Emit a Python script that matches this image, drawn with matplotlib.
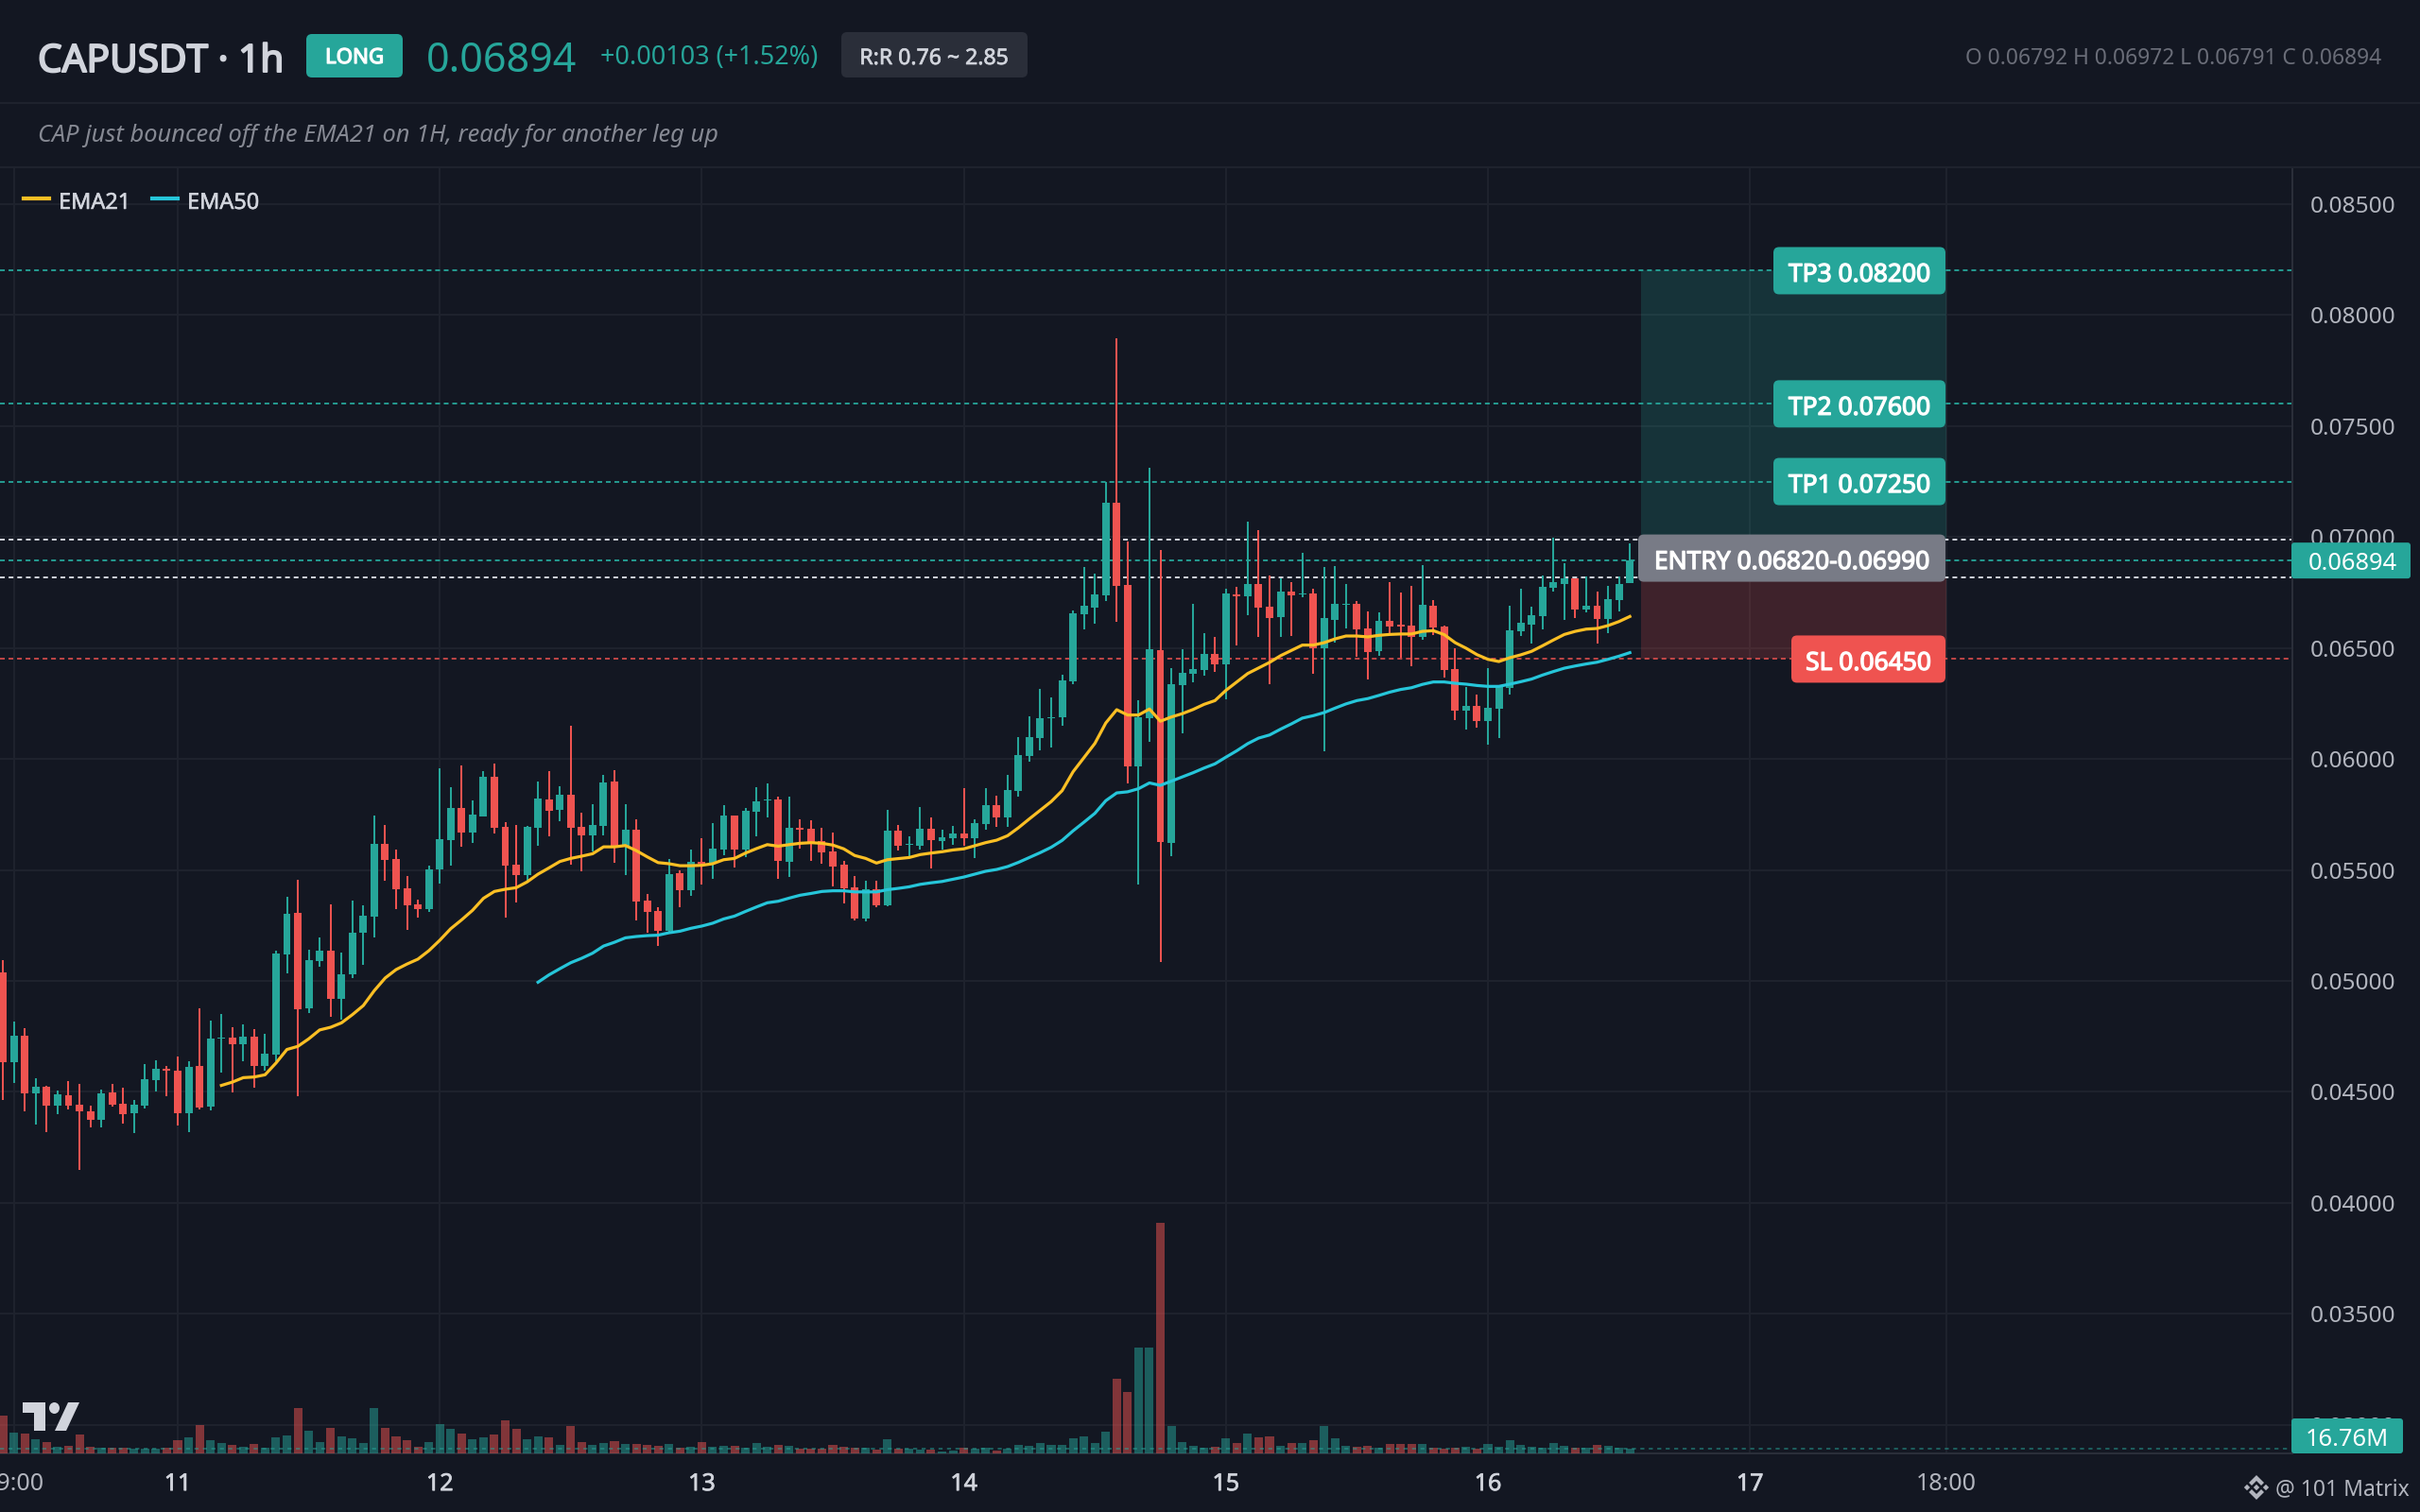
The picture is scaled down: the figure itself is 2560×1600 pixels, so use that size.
import numpy as np
import matplotlib
matplotlib.use("Agg")
import matplotlib.pyplot as plt
import matplotlib.patheffects as pe
from matplotlib.patches import FancyBboxPatch, Polygon, Ellipse

plt.rcParams['font.family'] = ['Noto Sans', 'DejaVu Sans']

# candle data, hours since the 11th 00:00, prices in 1e-5 USDT
first_hour = -16
highs = [5094, 4817, 4787, 4561, 4527, 4506, 4549, 4536, 4438, 4510, 4536, 4519, 4463, 4625, 4642, 4617,
         4659, 4638, 4876, 4821, 4851, 4791, 4804, 4783, 4761, 5136, 5379, 5455, 5140, 5196, 5345, 5128,
         5362, 5341, 5745, 5703, 5592, 5473, 5366, 5519, 5958, 5873, 5971, 5813, 5945, 5979, 5715, 5702,
         5698, 5898, 5945, 5877, 6149, 5758, 5796, 5928, 5949, 5796, 5728, 5391, 5332, 5549, 5498, 5592,
         5643, 5711, 5792, 5745, 5779, 5873, 5890, 5829, 5830, 5728, 5724, 5690, 5668, 5540, 5472, 5451,
         5451, 5770, 5702, 5651, 5783, 5736, 5681, 5698, 5869, 5728, 5869, 5835, 5929, 6099, 6193, 6316,
         6278, 6380, 6669, 6866, 6835, 7250, 7896, 6980, 6265, 7312, 6942, 6409, 6495, 6698, 6567, 6550,
         6766, 6776, 7069, 7031, 6827, 6814, 6797, 6929, 6767, 6865, 6869, 6788, 6712, 6665, 6661, 6797,
         6750, 6780, 6873, 6716, 6601, 6499, 6324, 6290, 6409, 6333, 6690, 6767, 6686, 6827, 6996, 6882,
         6814, 6822, 6754, 6780, 6822, 6972]
lows = [4463, 4540, 4414, 4353, 4320, 4401, 4421, 4150, 4342, 4342, 4435, 4358, 4316, 4426, 4503, 4482,
        4350, 4320, 4422, 4418, 4588, 4499, 4639, 4520, 4594, 4639, 5034, 4482, 4857, 5065, 4840, 4825,
        5014, 5074, 5197, 5453, 5325, 5231, 5287, 5312, 5440, 5521, 5606, 5623, 5742, 5664, 5285, 5353,
        5451, 5609, 5651, 5719, 5523, 5494, 5583, 5655, 5532, 5477, 5272, 5217, 5157, 5221, 5332, 5383,
        5434, 5460, 5566, 5511, 5558, 5651, 5736, 5460, 5468, 5596, 5540, 5528, 5426, 5349, 5272, 5268,
        5332, 5336, 5587, 5562, 5592, 5506, 5592, 5613, 5609, 5554, 5682, 5694, 5694, 5831, 5988, 6039,
        6052, 6150, 6337, 6584, 6609, 6712, 6619, 5890, 5434, 6077, 5085, 5562, 6115, 6345, 6375, 6392,
        6269, 6512, 6648, 6550, 6337, 6550, 6554, 6729, 6384, 6035, 6524, 6588, 6460, 6358, 6465, 6567,
        6456, 6418, 6537, 6558, 6367, 6175, 6133, 6141, 6064, 6094, 6290, 6554, 6520, 6584, 6754, 6627,
        6635, 6661, 6520, 6567, 6665, 6791]
opens = [5038, 4635, 4753, 4495, 4523, 4439, 4485, 4442, 4412, 4375, 4498, 4446, 4405, 4439, 4554, 4603,
         4595, 4405, 4617, 4435, 4740, 4745, 4716, 4749, 4618, 4669, 5119, 5306, 4878, 5091, 5136, 4920,
         5031, 5215, 5290, 5617, 5549, 5417, 5345, 5325, 5504, 5636, 5779, 5670, 5742, 5920, 5694, 5523,
         5477, 5690, 5817, 5770, 5839, 5694, 5655, 5698, 5898, 5604, 5681, 5362, 5315, 5225, 5485, 5408,
         5536, 5528, 5592, 5745, 5592, 5762, 5812, 5817, 5536, 5690, 5685, 5630, 5583, 5523, 5421, 5281,
         5413, 5340, 5677, 5611, 5609, 5685, 5630, 5643, 5664, 5643, 5707, 5792, 5737, 5856, 6014, 6095,
         6183, 6188, 6350, 6653, 6681, 6736, 7155, 6784, 5967, 6185, 6489, 5622, 6333, 6383, 6400, 6474,
         6426, 6740, 6733, 6788, 6686, 6639, 6754, 6741, 6746, 6499, 6627, 6695, 6699, 6588, 6486, 6622,
         6604, 6601, 6550, 6690, 6597, 6405, 6218, 6239, 6171, 6226, 6320, 6575, 6605, 6644, 6771, 6788,
         6814, 6673, 6690, 6631, 6716, 6792]
closes = [4635, 4753, 4495, 4523, 4439, 4489, 4439, 4414, 4375, 4493, 4442, 4401, 4442, 4557, 4604, 4594,
          4405, 4613, 4431, 4740, 4745, 4716, 4749, 4618, 4672, 5123, 5302, 4873, 5094, 5136, 4920, 5030,
          5217, 5294, 5617, 5546, 5414, 5342, 5325, 5502, 5639, 5779, 5670, 5749, 5920, 5690, 5519, 5477,
          5694, 5821, 5766, 5839, 5690, 5655, 5702, 5894, 5604, 5681, 5357, 5311, 5225, 5481, 5408, 5536,
          5528, 5596, 5745, 5592, 5766, 5809, 5817, 5540, 5690, 5681, 5626, 5579, 5515, 5417, 5281, 5413,
          5340, 5677, 5609, 5617, 5685, 5634, 5647, 5664, 5643, 5711, 5792, 5737, 5860, 6018, 6099, 6184,
          6188, 6354, 6657, 6691, 6742, 7155, 6780, 5967, 6189, 6495, 5626, 6337, 6389, 6406, 6474, 6427,
          6746, 6734, 6788, 6682, 6635, 6754, 6737, 6746, 6499, 6635, 6699, 6700, 6584, 6482, 6622, 6597,
          6598, 6550, 6695, 6592, 6401, 6218, 6239, 6171, 6231, 6328, 6580, 6614, 6648, 6776, 6797, 6814,
          6673, 6690, 6631, 6720, 6788, 6894]

# volume in millions
volumes = [123, 68, 65, 47, 38, 22, 25, 62, 22, 19, 19, 19, 16, 16, 16, 19,
           44, 53, 92, 44, 34, 28, 22, 31, 19, 53, 59, 147, 74, 38, 83, 56,
           50, 34, 147, 83, 56, 44, 22, 38, 95, 80, 65, 47, 53, 62, 108, 80,
           47, 56, 53, 28, 89, 38, 28, 34, 41, 31, 31, 28, 25, 31, 19, 22,
           38, 22, 25, 25, 19, 34, 22, 28, 25, 16, 16, 16, 28, 22, 18, 18,
           12, 46, 15, 15, 12, 12, 6, 9, 18, 15, 18, 9, 15, 27, 24, 34,
           27, 27, 49, 55, 34, 70, 241, 198, 342, 342, 744, 88, 37, 24, 18, 21,
           49, 34, 64, 52, 55, 24, 34, 34, 43, 88, 49, 24, 21, 24, 18, 31,
           31, 31, 31, 18, 15, 18, 21, 15, 31, 21, 43, 27, 21, 18, 34, 24,
           18, 18, 27, 24, 18, 16.76]

# EMA lines, same hours and units as the candles
ema21_start = 4
ema21 = [4529, 4544, 4564, 4567, 4577, 4630, 4691, 4705, 4739, 4779, 4791, 4811, 4848, 4889, 4956, 5013,
         5051, 5076, 5098, 5136, 5183, 5235, 5275, 5318, 5372, 5403, 5413, 5420, 5446, 5481, 5509, 5538,
         5552, 5562, 5573, 5604, 5604, 5610, 5587, 5559, 5533, 5528, 5519, 5519, 5521, 5528, 5546, 5552,
         5576, 5596, 5614, 5607, 5614, 5620, 5623, 5620, 5612, 5595, 5565, 5552, 5531, 5546, 5551, 5556,
         5569, 5576, 5582, 5590, 5595, 5609, 5623, 5634, 5654, 5690, 5730, 5769, 5808, 5857, 5942, 6006,
         6070, 6162, 6222, 6198, 6198, 6225, 6170, 6189, 6204, 6223, 6246, 6263, 6309, 6347, 6385, 6410,
         6435, 6465, 6489, 6513, 6513, 6524, 6541, 6554, 6554, 6550, 6557, 6561, 6563, 6563, 6575, 6578,
         6560, 6524, 6499, 6470, 6449, 6439, 6456, 6469, 6485, 6510, 6536, 6561, 6575, 6585, 6588, 6601,
         6619, 6642]
ema50_start = 33
ema50 = [4994, 5027, 5055, 5082, 5102, 5125, 5157, 5174, 5194, 5200, 5204, 5206, 5217, 5224, 5237, 5247,
         5260, 5279, 5292, 5313, 5333, 5352, 5359, 5373, 5386, 5394, 5403, 5406, 5406, 5401, 5401, 5401,
         5411, 5417, 5424, 5435, 5442, 5448, 5458, 5468, 5481, 5494, 5502, 5515, 5534, 5556, 5578, 5602,
         5633, 5676, 5715, 5755, 5812, 5847, 5852, 5866, 5892, 5881, 5900, 5919, 5938, 5959, 5978, 6008,
         6037, 6069, 6094, 6108, 6134, 6158, 6184, 6195, 6209, 6229, 6248, 6263, 6272, 6286, 6301, 6313,
         6321, 6336, 6347, 6347, 6341, 6337, 6331, 6327, 6327, 6337, 6348, 6360, 6378, 6394, 6409, 6419,
         6428, 6436, 6449, 6463, 6479]

price_ticks = [0.030, 0.035, 0.040, 0.045, 0.050, 0.055, 0.060, 0.065, 0.070, 0.075, 0.080, 0.085]
time_ticks = [-15, 0, 24, 48, 72, 96, 120, 144, 162]
time_labels = ['09:00', '11', '12', '13', '14', '15', '16', '17', '18:00']

entry_low, entry_high = 0.06820, 0.06990
stop_loss = 0.06450
targets = [0.07250, 0.07600, 0.08200]
last_price = 0.06894
last_volume = 16.76
zone_start, zone_end = 134, 162

BG = '#131722'
GRID = '#1e222d'
AXIS = '#2a2e39'
UP = '#26a69a'
DOWN = '#ef5350'
TEXT = '#d1d4dc'
DIM = '#b2b5be'
YELLOW = '#fbbf24'
CYAN = '#26c6da'

W, H = 2560, 1600
LEFT, RIGHT, TOP, BOTTOM = 0, 2425, 177, 1538


def pill(ax, x0, y0, x1, y1, color, radius=6):
    ax.add_patch(FancyBboxPatch((x0 + radius, y0 + radius), x1 - x0 - 2 * radius, y1 - y0 - 2 * radius,
                                boxstyle=f"round,pad={radius},rounding_size={radius}",
                                fc=color, ec='none', zorder=2))


def bold_text(ax, x, y, s, color, size, stroke=0.9, **kwargs):
    # the installed Noto Sans only comes in one weight here, so thicken it
    txt = ax.text(x, y, s, color=color, fontsize=size, **kwargs)
    txt.set_path_effects([pe.withStroke(linewidth=stroke, foreground=color)])
    return txt


hours = np.arange(first_hour, first_hour + len(closes))
highs = np.array(highs) * 1e-5
lows = np.array(lows) * 1e-5
opens = np.array(opens) * 1e-5
closes = np.array(closes) * 1e-5
rising = closes >= opens
colors = np.where(rising, UP, DOWN)

fig = plt.figure(figsize=(W / 100, H / 100), dpi=100, facecolor=BG)
ax = fig.add_axes([LEFT / W, 1 - BOTTOM / H, (RIGHT - LEFT) / W, (BOTTOM - TOP) / H], facecolor=BG)

# volume on its own scale, 3.05M per px
ax_vol = ax.twinx()
ax_vol.set_ylim(0, (BOTTOM - TOP) * 3.05)
ax_vol.set_yticks([])
for spine in ax_vol.spines.values():
    spine.set_visible(False)

# 11.55 px per hour, day 11 sits at x=188
ax.set_xlim((LEFT - 188) / 11.55, (RIGHT - 188) / 11.55)
ax.set_ylim(0.02871, 0.08666)

ax.set_xticks(time_ticks)
ax.set_xticklabels(time_labels)
ax.yaxis.tick_right()
ax.set_yticks(price_ticks)
ax.set_yticklabels([f"{p:.5f}" for p in price_ticks])
ax.tick_params(axis='y', length=0, pad=13.5, labelsize=17.6, labelcolor=DIM)
ax.tick_params(axis='x', length=0, pad=14.5, labelsize=18, labelcolor=TEXT)
for label, text in zip(ax.get_xticklabels(), time_labels):
    if ':' in text:
        label.set_color(DIM)
    else:
        label.set_path_effects([pe.withStroke(linewidth=0.5, foreground=TEXT)])
ax.grid(True, color=GRID, lw=1.45, zorder=1)
ax.set_axisbelow(True)
for name, spine in ax.spines.items():
    spine.set_visible(name in ('right', 'bottom'))
    spine.set_color(AXIS)
    spine.set_linewidth(1.45)

# risk and reward zones
ax.fill_between([zone_start, zone_end], entry_high, targets[-1], color=UP, alpha=0.2, lw=0, zorder=1.5)
ax.fill_between([zone_start, zone_end], stop_loss, entry_low, color=DOWN, alpha=0.2, lw=0, zorder=1.5)

# price levels
for level in targets + [last_price]:
    ax.axhline(level, color=UP, lw=1.3, ls=(0, (2.8, 2.2)), zorder=2)
for level in (entry_low, entry_high):
    ax.axhline(level, color=TEXT, lw=1.4, ls=(0, (2.6, 2.1)), zorder=2)
ax.axhline(stop_loss, color=DOWN, lw=1.1, ls=(0, (3.3, 2.6)), zorder=2)

# candles
ax.vlines(hours, lows, highs, colors=colors, lw=1.45, zorder=3)
body_low = np.minimum(opens, closes)
body_height = np.maximum(np.abs(closes - opens), 0.00003)
ax.bar(hours, body_height, bottom=body_low, width=0.69, color=colors, lw=0, zorder=3)

# moving averages
ax.plot(np.arange(ema21_start, ema21_start + len(ema21)), np.array(ema21) * 1e-5,
        color=YELLOW, lw=2.3, zorder=4, solid_joinstyle='round')
ax.plot(np.arange(ema50_start, ema50_start + len(ema50)), np.array(ema50) * 1e-5,
        color=CYAN, lw=2.3, zorder=4, solid_joinstyle='round')

ax_vol.bar(hours, volumes, width=0.78, color=colors, alpha=0.5, lw=0, zorder=2)
ax_vol.axhline(last_volume, color=UP, alpha=0.5, lw=1.4, ls=(0, (2.2, 2.4)), zorder=2)

# everything around the chart is laid out in pixels on a full figure overlay
over = fig.add_axes([0, 0, 1, 1], facecolor='none', zorder=10)
over.set_xlim(0, W)
over.set_ylim(H, 0)
over.axis('off')


def price_y(price):
    return H - ax.transData.transform((0, price))[1]


# header
over.plot([0, W], [108.5, 108.5], color=GRID, lw=1.45)
over.plot([0, W], [177, 177], color=GRID, lw=1.45)
bold_text(over, 40, 76, "CAPUSDT · 1h", TEXT, 29.2, stroke=1.4, va='baseline')
pill(over, 324, 36, 426, 82, UP)
bold_text(over, 375, 59, "LONG", 'white', 16, ha='center', va='center_baseline')
over.text(451, 76, f"{last_price:.5f}", color=UP, fontsize=31, va='baseline')
over.text(635, 68, "+0.00103 (+1.52%)", color=UP, fontsize=19.4, va='baseline')
pill(over, 890, 34, 1087, 82, AXIS)
bold_text(over, 988, 59, "R:R 0.76 ~ 2.85", TEXT, 16.6, stroke=0.5, ha='center', va='center_baseline')
over.text(2519, 59, "O 0.06792 H 0.06972 L 0.06791 C 0.06894", color='#6a6d78', fontsize=16.4, ha='right',
          va='center_baseline')
over.text(40, 150, "CAP just bounced off the EMA21 on 1H, ready for another leg up", color='#868993',
          fontsize=18.3, style='italic', va='baseline')

# legend
over.plot([25, 52], [210, 210], color=YELLOW, lw=3)
bold_text(over, 62, 212, "EMA21", TEXT, 16.9, stroke=0.4, va='center_baseline')
over.plot([161, 188], [210, 210], color=CYAN, lw=3)
bold_text(over, 198, 212, "EMA50", TEXT, 16.9, stroke=0.4, va='center_baseline')

# level tags
pill_right = 2058
for name, level in zip(['TP1', 'TP2', 'TP3'], targets):
    y = price_y(level)
    pill(over, 1876, y - 25, pill_right, y + 25, UP)
    bold_text(over, (1876 + pill_right) / 2, y + 1, f"{name} {level:.5f}", 'white', 19,
              ha='center', va='center_baseline')
y = price_y((entry_low + entry_high) / 2)
pill(over, 1733, y - 25, pill_right, y + 25, '#787b86')
bold_text(over, (1733 + pill_right) / 2, y + 1, f"ENTRY {entry_low:.5f}-{entry_high:.5f}", 'white', 19,
          ha='center', va='center_baseline')
y = price_y(stop_loss)
pill(over, 1895, y - 25, pill_right, y + 25, DOWN)
bold_text(over, (1895 + pill_right) / 2, y + 1, f"SL {stop_loss:.5f}", 'white', 19,
          ha='center', va='center_baseline')

# axis tags
y = price_y(last_price)
pill(over, 2424, y - 19, 2550, y + 19, UP, radius=3)
over.text(2489, y, f"{last_price:.5f}", color='white', fontsize=18.3, ha='center', va='center_baseline')
pill(over, 2424, 1501, 2542, 1538, UP, radius=3)
over.text(2483, 1520, f"{last_volume}M", color='white', fontsize=18.3, ha='center', va='center_baseline')

# TradingView mark
over.add_patch(Polygon([(24, 1484), (48, 1484), (48, 1514), (36, 1514), (36, 1495), (24, 1495)], fc=TEXT, ec='none'))
over.add_patch(Ellipse((57.5, 1490), 11, 12, fc=TEXT, ec='none'))
over.add_patch(Polygon([(72, 1484), (84, 1484), (70, 1514), (58, 1514)], fc=TEXT, ec='none'))

# watermark with the diamond mark
cx, cy = 2387, 1574
for dx, r in [(0, 3.2), (-10, 3.2), (10, 3.2)]:
    over.add_patch(Polygon([(cx + dx - r, cy), (cx + dx, cy - r), (cx + dx + r, cy), (cx + dx, cy + r)],
                           fc=DIM, ec='none'))
for sign in (-1, 1):
    over.add_patch(Polygon([(cx, cy + sign * 13), (cx + 8, cy + sign * 5), (cx + 5, cy + sign * 2),
                            (cx, cy + sign * 7), (cx - 5, cy + sign * 2), (cx - 8, cy + sign * 5)],
                           fc=DIM, ec='none'))
over.text(2407, 1573, "@ 101 Matrix", color=DIM, fontsize=16.5, va='center_baseline')

fig.savefig('out.png', dpi=100, facecolor=BG)
